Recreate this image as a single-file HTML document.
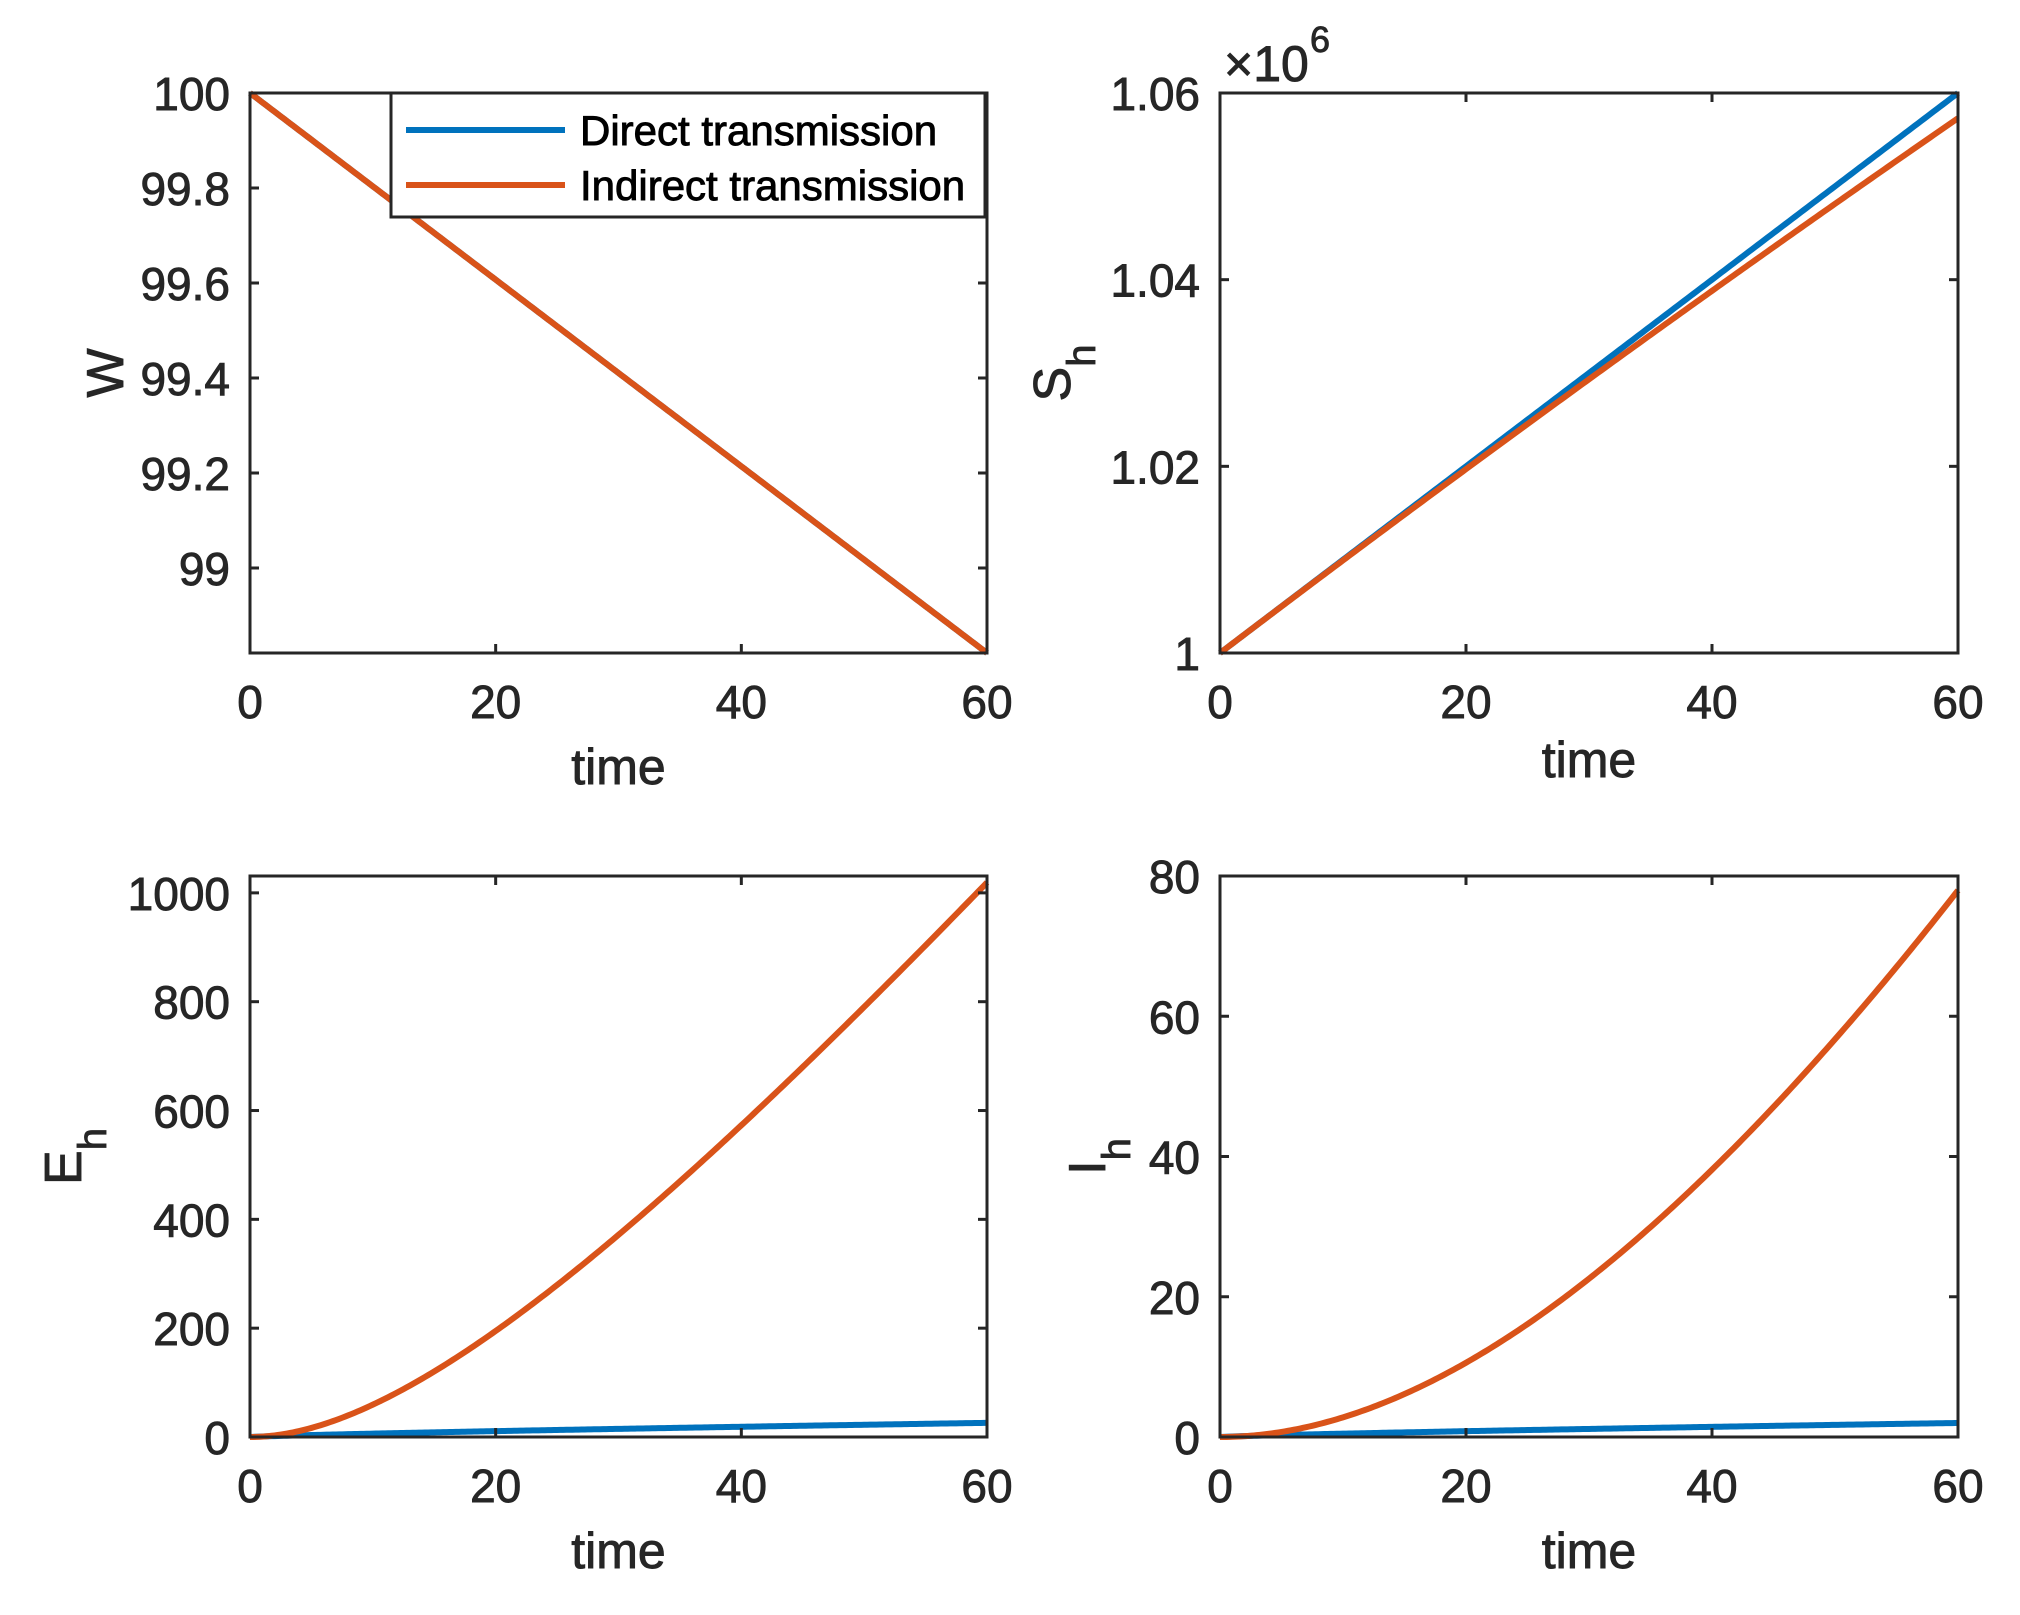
<!DOCTYPE html>
<html><head><meta charset="utf-8"><style>
html,body{margin:0;padding:0;background:#fff;}
svg{display:block;}
text{font-family:"Liberation Sans",Arial,sans-serif;fill:#262626;stroke:#262626;stroke-width:0.9px;}
</style></head><body>
<svg id="s" width="2020" height="1615" xmlns="http://www.w3.org/2000/svg">
<rect width="2020" height="1615" fill="#fff"/>
<g id="g"></g>
</svg>
<script>
const NS="http://www.w3.org/2000/svg";
const g=document.getElementById('g');
function el(tag,attrs,text){const e=document.createElementNS(NS,tag);for(const k in attrs)e.setAttribute(k,attrs[k]);if(text!==undefined)e.textContent=text;g.appendChild(e);return e;}
const BLUE="#0072BD",ORANGE="#D95319",AX="#262626";
function axes(o){
 const {x0,x1,y0,y1,ymin,ymax,yticks,ylabels,series,xlabY,ylab,ylabX,sub}=o;
 const X=t=>x0+(t/60)*(x1-x0), Y=v=>y1-(v-ymin)/(ymax-ymin)*(y1-y0);
 series.forEach(s=>{let p=[];for(let i=0;i<=240;i++){const t=i*60/240;p.push(X(t).toFixed(2)+','+Y(s.f(t)).toFixed(2));}
  el('polyline',{points:p.join(' '),fill:'none',stroke:s.c,'stroke-width':6,'stroke-linejoin':'round'});});
 el('rect',{x:x0,y:y0,width:x1-x0,height:y1-y0,fill:'none',stroke:AX,'stroke-width':3});
 [0,20,40,60].forEach(t=>{const x=X(t);
  el('line',{x1:x,y1:y1,x2:x,y2:y1-9,stroke:AX,'stroke-width':3});
  el('line',{x1:x,y1:y0,x2:x,y2:y0+9,stroke:AX,'stroke-width':3});
  el('text',{x:x,y:y1+65,'font-size':46,'text-anchor':'middle'},String(t));});
 yticks.forEach((v,i)=>{const y=Y(v);
  el('line',{x1:x0,y1:y,x2:x0+9,y2:y,stroke:AX,'stroke-width':3});
  el('line',{x1:x1,y1:y,x2:x1-9,y2:y,stroke:AX,'stroke-width':3});
  el('text',{x:x0-20,y:y+17,'font-size':46,'text-anchor':'end'},ylabels[i]);});
 el('text',{x:(x0+x1)/2,y:xlabY,'font-size':50,'text-anchor':'middle'},'time');
 const cy=(y0+y1)/2;
 const t=el('text',{transform:`translate(${ylabX},${cy}) rotate(-90)`,'font-size':52,'text-anchor':'middle'});
 const a=document.createElementNS(NS,'tspan');a.textContent=ylab;t.appendChild(a);
 if(sub){const b=document.createElementNS(NS,'tspan');b.setAttribute('dy',25);b.setAttribute('font-size',40);b.textContent=sub;t.appendChild(b);}
}
axes({x0:250,x1:987,y0:93,y1:653,ymin:100-560/475,ymax:100,
 yticks:[99,99.2,99.4,99.6,99.8,100],ylabels:['99','99.2','99.4','99.6','99.8','100'],
 series:[{c:BLUE,f:t=>100-t*(560/475)/60},{c:ORANGE,f:t=>100-t*(560/475)/60}],
 xlabY:784,ylab:'W',ylabX:123});
axes({x0:1220,x1:1958,y0:93,y1:653,ymin:1,ymax:1.06,
 yticks:[1,1.02,1.04,1.06],ylabels:['1','1.02','1.04','1.06'],
 series:[{c:BLUE,f:t=>1+0.001*t},{c:ORANGE,f:t=>1+0.001*t-7.5e-7*t*t}],
 xlabY:777,ylab:'S',sub:'h',ylabX:1070});
axes({x0:250,x1:987,y0:876,y1:1437,ymin:0,ymax:1031,
 yticks:[0,200,400,600,800,1000],ylabels:['0','200','400','600','800','1000'],
 series:[{c:BLUE,f:t=>26*Math.pow(t/60,0.8)},{c:ORANGE,f:t=>0.762*t*t/(1+0.0282*t)}],
 xlabY:1568,ylab:'E',sub:'h',ylabX:81});
axes({x0:1220,x1:1958,y0:876,y1:1437,ymin:0,ymax:80,
 yticks:[0,20,40,60,80],ylabels:['0','20','40','60','80'],
 series:[{c:BLUE,f:t=>2*Math.pow(t/60,0.8)},{c:ORANGE,f:t=>0.0298*t*t/(1+0.00627*t)}],
 xlabY:1568,ylab:'I',sub:'h',ylabX:1105});
el('text',{x:1224,y:81,'font-size':50},'\u00d710');
el('text',{x:1310,y:52,'font-size':36},'6');
el('rect',{x:391,y:93,width:594,height:124,fill:'#fff',stroke:AX,'stroke-width':3});
el('line',{x1:406,y1:130,x2:565,y2:130,stroke:BLUE,'stroke-width':6});
el('line',{x1:406,y1:185,x2:565,y2:185,stroke:ORANGE,'stroke-width':6});
el('text',{x:580,y:145,'font-size':42,style:'fill:#000;stroke:#000'},'Direct transmission');
el('text',{x:580,y:200,'font-size':42,style:'fill:#000;stroke:#000'},'Indirect transmission');
</script>
</body></html>
